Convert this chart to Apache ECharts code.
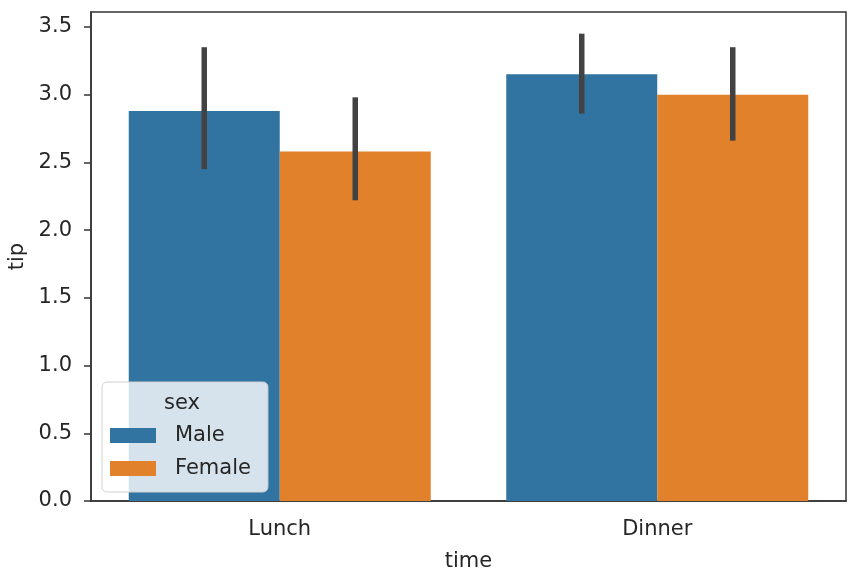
<!DOCTYPE html>
<html>
<head>
<meta charset="utf-8">
<script src="https://cdn.jsdelivr.net/npm/echarts@6/dist/echarts.min.js"></script>
<style>html,body{margin:0;padding:0;background:#fff}#c{width:855px;height:577px}</style>
</head>
<body>
<div id="c"></div>
<script>
const categories = ['Lunch', 'Dinner'];
const hues = ['Male', 'Female'];
const maleTip = [2.88, 3.15];
const femaleTip = [2.58, 3.00];
const maleCiLow = [2.45, 2.86];
const maleCiHigh = [3.35, 3.45];
const femaleCiLow = [2.22, 2.66];
const femaleCiHigh = [2.98, 3.35];
const yTicks = [0, 0.5, 1.0, 1.5, 2.0, 2.5, 3.0, 3.5];

const FONT = 'DejaVu Sans';
const TXT = '#262626';
const FS = 21;

function ciData(lo, hi) {
  return categories.map((c, i) => [i, lo[i], hi[i]]);
}
function errRenderer(offset) {
  return function (params, api) {
    const c = api.value(0);
    const p1 = api.coord([c, api.value(1)]);
    const p2 = api.coord([c, api.value(2)]);
    const w = api.size([1, 0])[0];
    const x = p1[0] + offset * w;
    return {
      type: 'line',
      shape: { x1: x, y1: p1[1], x2: x, y2: p2[1] },
      style: { stroke: '#424242', lineWidth: 5.5, lineCap: 'butt' }
    };
  };
}

const chart = echarts.init(document.getElementById('c'), null, { renderer: 'canvas' });
chart.setOption({
  animation: false,
  backgroundColor: '#fff',
  textStyle: { fontFamily: FONT },
  grid: {
    left: 91, right: 9, top: 12, bottom: 76,
    outerBoundsMode: 'none', containLabel: false,
    show: true, borderColor: '#333', borderWidth: 1.5, backgroundColor: 'transparent'
  },
  legend: {
    data: hues,
    orient: 'vertical',
    left: 102, top: 382,
    padding: [43, 17, 13, 8],
    itemGap: 12,
    itemWidth: 46, itemHeight: 15,
    icon: 'rect',
    backgroundColor: 'rgba(255,255,255,0.8)',
    borderColor: '#d0d0d0', borderWidth: 1, borderRadius: 5,
    textStyle: { fontFamily: FONT, fontSize: FS, color: TXT, padding: [0, 0, 0, 14] },
    z: 10
  },
  graphic: [{
    type: 'text', left: 164, top: 393, z: 100,
    style: { text: 'sex', fontFamily: FONT, fontSize: FS, fill: TXT }
  }],
  xAxis: {
    type: 'category',
    data: categories,
    name: 'time', nameLocation: 'middle', nameGap: 50,
    nameTextStyle: { fontFamily: FONT, fontSize: FS, color: TXT },
    axisLine: { lineStyle: { color: '#333', width: 1.5 } },
    axisTick: { alignWithLabel: true, length: 7, lineStyle: { color: '#333', width: 1.5 } },
    axisLabel: { fontFamily: FONT, fontSize: FS, color: TXT, margin: 18 },
    splitLine: { show: false }
  },
  yAxis: {
    type: 'value',
    min: 0, max: 3.61, interval: 0.5,
    name: 'tip', nameLocation: 'middle', nameGap: 63, nameRotate: 90,
    nameTextStyle: { fontFamily: FONT, fontSize: FS, color: TXT },
    axisLine: { show: true, lineStyle: { color: '#333', width: 1.5 } },
    axisTick: { show: true, length: 7, customValues: yTicks, lineStyle: { color: '#333', width: 1.5 } },
    axisLabel: { fontFamily: FONT, fontSize: FS, color: TXT, margin: 19, customValues: yTicks,
      formatter: v => v.toFixed(1) },
    splitLine: { show: false }
  },
  series: [
    { name: 'Male', type: 'bar', data: maleTip, barGap: '0%', barCategoryGap: '20%',
      itemStyle: { color: '#3274a1' }, z: 2 },
    { name: 'Female', type: 'bar', data: femaleTip, barGap: '0%', barCategoryGap: '20%',
      itemStyle: { color: '#e1812c' }, z: 2 },
    { name: 'Male CI', type: 'custom', data: ciData(maleCiLow, maleCiHigh),
      encode: { x: 0, y: [1, 2] }, renderItem: errRenderer(-0.2), z: 3 },
    { name: 'Female CI', type: 'custom', data: ciData(femaleCiLow, femaleCiHigh),
      encode: { x: 0, y: [1, 2] }, renderItem: errRenderer(0.2), z: 3 }
  ]
});
</script>
</body>
</html>
